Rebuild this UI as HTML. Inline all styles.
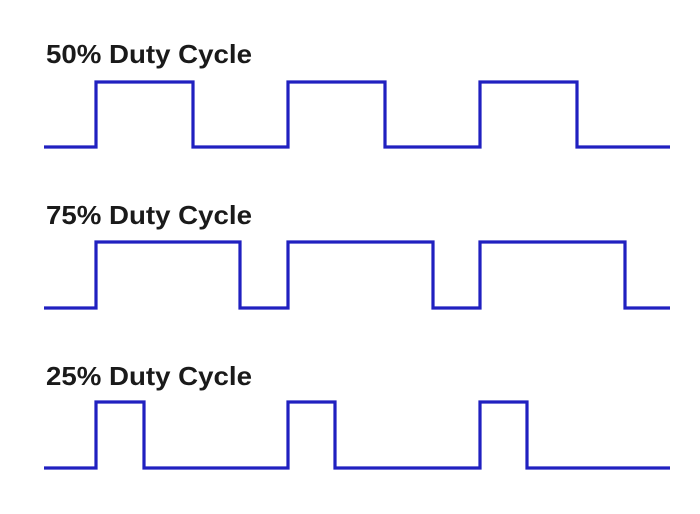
<!DOCTYPE html>
<html><head><meta charset="utf-8"><style>
html,body{margin:0;padding:0;background:#fff;}
svg{display:block;}
text{font-family:"Liberation Sans",sans-serif;font-weight:bold;font-size:26px;fill:#1a1a1a;}
polyline{fill:none;stroke:#2020c0;stroke-width:3.2;stroke-linejoin:miter;}
</style></head><body>
<svg width="700" height="514" viewBox="0 0 700 514">
<text x="46" y="63" textLength="206" lengthAdjust="spacingAndGlyphs">50% Duty Cycle</text>
<polyline points="44,147 96,147 96,82 193,82 193,147 288,147 288,82 385,82 385,147 480,147 480,82 577,82 577,147 670,147"/>
<text x="46" y="224" textLength="206" lengthAdjust="spacingAndGlyphs">75% Duty Cycle</text>
<polyline points="44,308 96,308 96,242 240,242 240,308 288,308 288,242 433,242 433,308 480,308 480,242 625,242 625,308 670,308"/>
<text x="46" y="385" textLength="206" lengthAdjust="spacingAndGlyphs">25% Duty Cycle</text>
<polyline points="44,468 96,468 96,402 144,402 144,468 288,468 288,402 335,402 335,468 480,468 480,402 527,402 527,468 670,468"/>
</svg>
</body></html>
